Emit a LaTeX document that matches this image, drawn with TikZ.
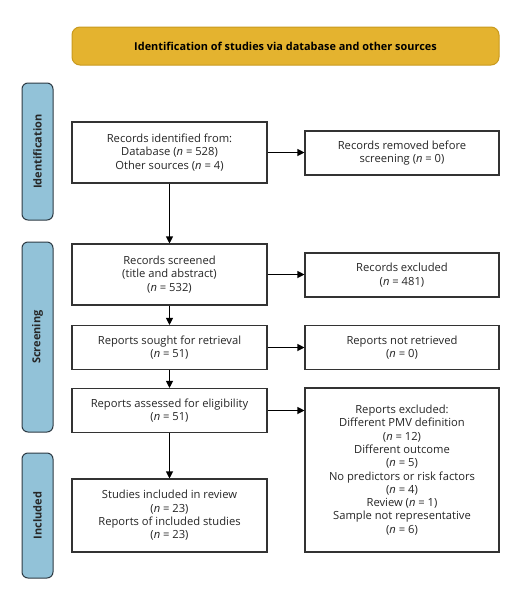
\documentclass[tikz,border=0pt]{standalone}
\usepackage{fontspec}
\setmainfont{Open Sans}
\usetikzlibrary{arrows.meta}
\definecolor{banner}{HTML}{E4B32F}
\definecolor{bannerline}{HTML}{C99A1E}
\definecolor{tabfill}{HTML}{92C2D8}
\definecolor{tabline}{HTML}{2E3B44}
\definecolor{boxline}{HTML}{333333}
\newcommand{\nn}{\textit{n}}
\tikzset{
  box/.style={draw=boxline, line width=1.1pt, fill=white, align=center, inner sep=2pt,
    font=\fontsize{11.2}{13.3}\selectfont, text=black!85},
  tab/.style={draw=tabline, line width=1pt, fill=tabfill, rounded corners=6pt,
    minimum width=31pt},
  tablabel/.style={rotate=90, font=\bfseries\fontsize{11}{13}\selectfont, text=black!85},
  flow/.style={-{Triangle[length=7pt,width=7pt]}, line width=1.1pt, draw=black}
}
\begin{document}
\begin{tikzpicture}[x=1pt,y=-1pt]
\useasboundingbox (0,0) rectangle (520,606);
\fill[white] (0,0) rectangle (520,606);
% banner
\node[draw=bannerline, line width=1pt, fill=banner, rounded corners=8pt,
  minimum width=427pt, minimum height=38pt, font=\bfseries\fontsize{10.9}{13}\selectfont]
  (ban) at (285.5,46) {Identification of studies via database and other sources};
% tabs
\node[tab, minimum height=137pt] (tid) at (37.5,151.5) {};
\node[tablabel] (tidl) at (tid.center) {Identification};
\node[tab, minimum height=190pt] (tsc) at (37.5,337) {};
\node[tablabel] (tscl) at (tsc.center) {Screening};
\node[tab, minimum height=125pt] (tin) at (37.5,515.5) {};
\node[tablabel] (tinl) at (tin.center) {Included};
% left column
\node[box, minimum width=195pt, minimum height=61pt] (b1) at (169.5,152.5)
  {Records identified from:\\Database (\nn{} = 528)\\Other sources (\nn{} = 4)};
\node[box, minimum width=195pt, minimum height=61pt] (b2) at (169.5,274.5)
  {Records screened\\(title and abstract)\\(\nn{} = 532)};
\node[box, minimum width=195pt, minimum height=44pt] (b3) at (169.5,347.5)
  {Reports sought for retrieval\\(\nn{} = 51)};
\node[box, minimum width=195pt, minimum height=44pt] (b4) at (169.5,410.5)
  {Reports assessed for eligibility\\(\nn{} = 51)};
\node[box, minimum width=195pt, minimum height=73pt] (b5) at (169.5,515.5)
  {Studies included in review\\(\nn{} = 23)\\Reports of included studies\\(\nn{} = 23)};
% right column
\node[box, minimum width=194pt, minimum height=44pt] (r1) at (402,153)
  {Records removed before\\screening (\nn{} = 0)};
\node[box, minimum width=194pt, minimum height=44pt] (r2) at (402,275)
  {Records excluded\\(\nn{} = 481)};
\node[box, minimum width=194pt, minimum height=44pt] (r3) at (402,347.5)
  {Reports not retrieved\\(\nn{} = 0)};
\node[box, minimum width=194pt, minimum height=164pt] (r4) at (402,470)
  {Reports excluded:\\Different PMV definition\\(\nn{} = 12)\\Different outcome\\(\nn{} = 5)\\No predictors or risk factors\\(\nn{} = 4)\\Review (\nn{} = 1)\\Sample not representative\\(\nn{} = 6)};
% arrows
\draw[flow] (b1) -- (b2);
\draw[flow] (b2) -- (b3);
\draw[flow] (b3) -- (b4);
\draw[flow] (b4) -- (b5);
\draw[flow] (b1.east) -- (b1.east -| r1.west);
\draw[flow] (b2.east) -- (b2.east -| r2.west);
\draw[flow] (b3.east) -- (b3.east -| r3.west);
\draw[flow] (b4.east) -- (b4.east -| r4.west);
\end{tikzpicture}
\end{document}
